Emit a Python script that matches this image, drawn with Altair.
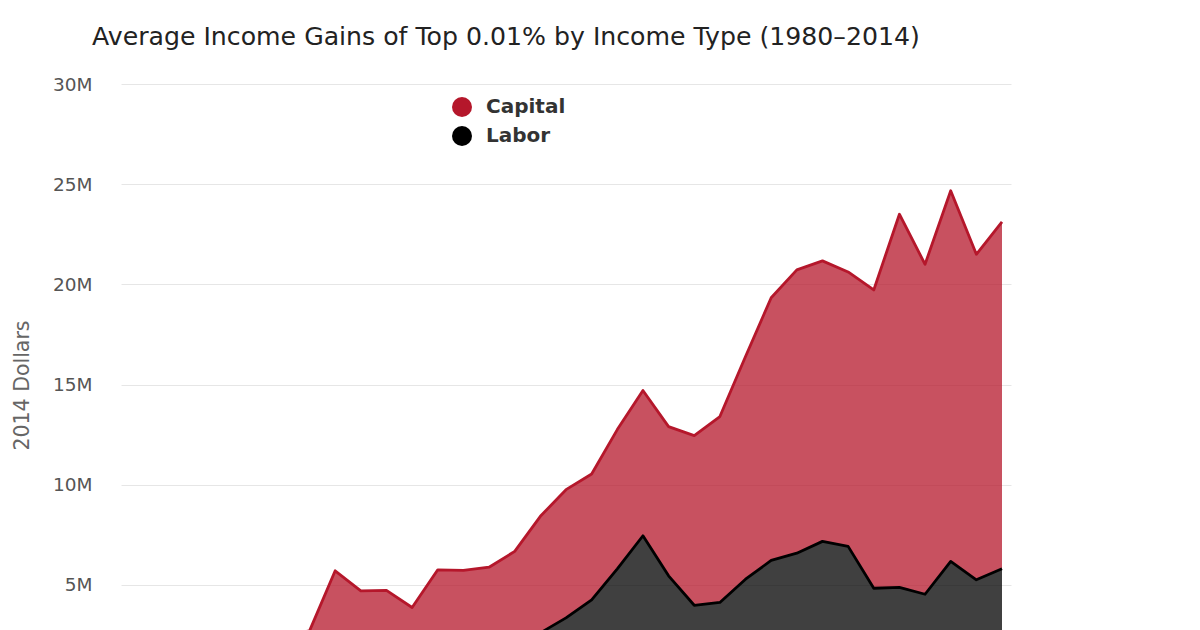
import altair as alt
import pandas as pd

# values, millions of 2014 dollars
years = list(range(1980, 2015))
# top edge of the stack (capital + labor)
total_income = [1.5, 1.4, 1.6, 1.8, 2.0, 2.2, 2.5, 2.7, 5.7, 4.7,
                4.72, 3.87, 5.75, 5.72, 5.88, 6.67, 8.42, 9.75, 10.53, 12.75,
                14.7, 12.9, 12.45, 13.4, 16.4, 19.33, 20.72, 21.17, 20.62, 19.72,
                23.5, 21.0, 24.67, 21.5, 23.12]
labor_income = [0.9, 0.9, 1.0, 1.1, 1.3, 1.4, 1.6, 1.9, 2.4, 2.2,
                2.1, 1.8, 2.2, 2.1, 2.1, 2.3, 2.6, 3.35, 4.25, 5.8,
                7.45, 5.45, 3.98, 4.12, 5.28, 6.22, 6.58, 7.17, 6.92, 4.83,
                4.87, 4.53, 6.17, 5.25, 5.8]
series_names = ['Capital', 'Labor']
series_colors = ['#b5172b', '#000000']
# the 0 line falls below the visible page, so only these are labelled
y_ticks = [5000000, 10000000, 15000000, 20000000, 25000000, 30000000]

FONT = 'DejaVu Sans'


def build_frame():
    # one row per year and series, with the band it fills
    rows = []
    for i, year in enumerate(years):
        top = total_income[i] * 1e6
        lab = labor_income[i] * 1e6
        rows.append({'year': year, 'series': 'Capital', 'upper': top, 'lower': lab})
        rows.append({'year': year, 'series': 'Labor', 'upper': lab, 'lower': 0})
    #end for
    return pd.DataFrame(rows)
#end build_frame


df = build_frame()

# year axis sits below the bottom of the page in the reference
x_enc = alt.X('year:Q', title=None,
              scale=alt.Scale(domain=[1980, 2014], padding=9, nice=False, zero=False),
              axis=None)
y_enc = alt.Y('upper:Q', title='2014 Dollars',
              scale=alt.Scale(domain=[0, 30000000], nice=False),
              axis=alt.Axis(values=y_ticks,
                            labelExpr="(datum.value / 1000000) + 'M'",
                            ticks=False, domain=False, grid=True,
                            gridColor='#e6e6e6', gridWidth=1,
                            labelFont=FONT, labelFontSize=18.5, labelColor='#555555',
                            labelPadding=29,
                            titleFont=FONT, titleFontSize=20.5, titleFontWeight='normal',
                            titleColor='#666666', titleAngle=270,
                            titleX=-99, titleY=301, titleAlign='center',
                            titleBaseline='middle'))

legend = alt.Legend(title=None, orient='none', legendX=331, legendY=13,
                    symbolType='circle', symbolSize=400, symbolOpacity=1,
                    symbolStrokeWidth=0, labelFont=FONT, labelFontSize=20,
                    labelFontWeight='bold', labelColor='#333333',
                    labelOffset=14, rowPadding=9, padding=0)

areas = alt.Chart(df).mark_area(opacity=0.75).encode(
    x=x_enc,
    y=y_enc,
    y2='lower:Q',
    color=alt.Color('series:N', scale=alt.Scale(domain=series_names, range=series_colors),
                    legend=legend)
)

lines = alt.Chart(df).mark_line(strokeWidth=2.8, strokeJoin='round').encode(
    x=x_enc,
    y=y_enc,
    stroke=alt.Stroke('series:N', scale=alt.Scale(domain=series_names, range=series_colors),
                      legend=None)
)

chart = alt.layer(areas, lines).properties(
    width=890,
    height=601,
    padding={'left': 113, 'top': 76, 'right': 20, 'bottom': 10},
    autosize=alt.AutoSizeParams(type='none'),
    title=alt.TitleParams('Average Income Gains of Top 0.01% by Income Type (1980–2014)',
                          anchor='start', frame='group', dx=-29, offset=5,
                          baseline='alphabetic', font=FONT, fontSize=25.2,
                          fontWeight='normal', color='#222222')
).configure_view(stroke=None)

chart.save("out.html", embed_options={"renderer": "svg", "actions": False})
